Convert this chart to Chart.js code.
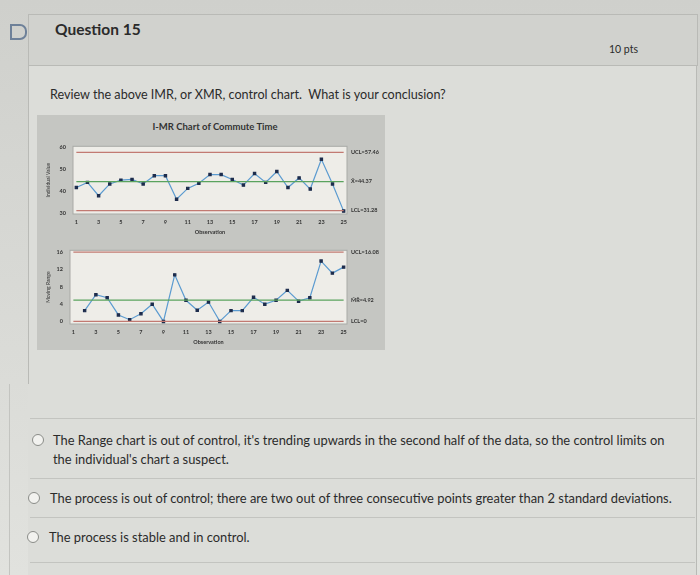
<!doctype html>
<html>
<head>
<title>I-MR Chart of Commute Time</title>
<script src="https://cdn.jsdelivr.net/npm/chart.js@4/dist/chart.umd.min.js"></script>
<style>
	body { margin: 0; width: 700px; height: 575px; position: relative; overflow: hidden;
		background: linear-gradient(180deg, #cfd0cc 0%, #d9dad6 55%, #e1e2de 100%); font-family: Lato, 'Open Sans', sans-serif; color: #2b2b2b; }
	.abs { position: absolute; }
	.radio { position: absolute; width: 10px; height: 10px; border: 1px solid #8a8c88; border-radius: 50%; background: #f2f2ef; }
	.rule { position: absolute; left: 30px; width: 665px; height: 1px; background: #c3c4c0; }
	.opt { position: absolute; font-size: 12.9px; line-height: 19px; }
</style>
</head>
<body>
	<div class="abs" style="left:10px;top:24px;width:13px;height:12px;border:2px solid #6e8199;border-radius:0 7px 7px 0;"></div>
	<div class="abs" style="left:28px;top:14px;width:668px;height:570px;background:#dcddd9;border-right:1px solid #b9bab6;border-top:1px solid #b9bab6;"></div>
	<div class="abs" style="left:28px;top:64px;width:1px;height:320px;background:#b9bab6;"></div>
	<div class="abs" style="left:9px;top:384px;width:1px;height:200px;background:#c3c4c0;"></div>
	<div class="abs" style="left:28px;top:14px;width:668px;height:50px;background:#d1d2ce;border:1px solid #b9bab6;"></div>
	<div class="abs" style="left:55px;top:20px;font-size:15.5px;font-weight:bold;">Question 15</div>
	<div class="abs" style="left:609px;top:43px;font-size:10.5px;">10 pts</div>
	<div class="abs" style="left:50px;top:87px;font-size:12.6px;">Review the above IMR, or XMR, control chart.&nbsp; What is your conclusion?</div>

	<div class="abs" style="left:37px;top:115px;width:348px;height:235px;background:#c5c6c2;"></div>
	<div class="abs" style="left:37px;top:121px;width:356px;text-align:center;font-size:9.5px;font-weight:bold;color:#333;">I-MR Chart of Commute Time</div>
	<div class="abs" style="left:45px;top:136px;width:340px;height:104px;"><canvas id="iChart"></canvas></div>
	<div class="abs" style="left:45px;top:240px;width:340px;height:110px;"><canvas id="mrChart"></canvas></div>

	<div class="rule" style="top:418px;"></div>
	<div class="radio" style="left:32px;top:434px;"></div>
	<div class="opt" style="left:53px;top:431px;width:622px;">The Range chart is out of control, it's trending upwards in the second half of the data, so the control limits on the individual's chart a suspect.</div>
	<div class="rule" style="top:478px;"></div>
	<div class="radio" style="left:28px;top:492px;"></div>
	<div class="opt" style="left:50px;top:489px;">The process is out of control; there are two out of three consecutive points greater than 2 standard deviations.</div>
	<div class="rule" style="top:517px;"></div>
	<div class="radio" style="left:27px;top:531px;"></div>
	<div class="opt" style="left:49px;top:528px;">The process is stable and in control.</div>
	<div class="rule" style="top:562px;"></div>

	<script>
		var observations = [1, 2, 3, 4, 5, 6, 7, 8, 9, 10, 11, 12, 13, 14, 15, 16, 17, 18, 19, 20, 21, 22, 23, 24, 25];
		var individualValues = [41.7, 44, 38, 43.3, 45, 45.3, 43.3, 47, 47, 36.4, 41.3, 43.6, 47.5, 47.5, 45.3, 42.8, 48, 44, 48.9, 41.7, 46, 41, 54.4, 43.3, 31.1];
		var movingRanges = [null, 2.5, 6.2, 5.5, 1.5, 0.4, 1.8, 4, 0, 10.8, 4.9, 2.6, 4.5, 0, 2.5, 2.5, 5.6, 4, 4.9, 7.2, 4.7, 5.5, 14, 11.2, 12.6];
		var iLimitValues = [57.46, 44.37, 31.28];
		var iLimitLabels = ['UCL=57.46', 'X\u0304=44.37', 'LCL=31.28'];
		var mrLimitValues = [16.08, 4.92, 0];
		var mrLimitLabels = ['UCL=16.08', 'M\u0304R\u0304=4.92', 'LCL=0'];
		var iTicks = [30, 40, 50, 60];
		var mrTicks = [0, 4, 8, 12, 16];
		var xTicks = [1, 3, 5, 7, 9, 11, 13, 15, 17, 19, 21, 23, 25];

		var limitColors = ['#c27a72', '#5aa35e', '#c27a72'];

		function points(values) {
			return observations.map(function(o, i) {
				return { x: o, y: values[i] };
			});
		}

		function limitSets(values) {
			return values.map(function(v, i) {
				return {
					data: [{ x: observations[0], y: v }, { x: observations[observations.length - 1], y: v }],
					borderColor: limitColors[i],
					borderWidth: 1.3,
					pointRadius: 0
				};
			});
		}

		// plot background, frame and limit labels on the right
		var framePlugin = {
			id: 'frame',
			beforeDraw: function(chart) {
				var a = chart.chartArea, ctx = chart.ctx;
				ctx.save();
				ctx.fillStyle = '#eeede8';
				ctx.fillRect(a.left, a.top, a.right - a.left, a.bottom - a.top);
				ctx.strokeStyle = '#a9aaa6';
				ctx.lineWidth = 1;
				ctx.strokeRect(a.left, a.top, a.right - a.left, a.bottom - a.top);
				ctx.restore();
			},
			afterDraw: function(chart) {
				var o = chart.options.plugins.frame, ctx = chart.ctx, y = chart.scales.y;
				ctx.save();
				ctx.fillStyle = '#333';
				ctx.font = 'bold 5.5px Lato';
				ctx.textBaseline = 'middle';
				o.values.forEach(function(v, i) {
					ctx.fillText(o.labels[i], chart.chartArea.right + 4, y.getPixelForValue(v));
				});
				ctx.restore();
			}
		};

		function makeChart(id, values, limits, labels, yTicks, yMin, yMax, yTitle, yWidth, padTop) {
			var datasets = limitSets(limits);
			datasets.push({
				data: points(values),
				borderColor: '#5b9bd0',
				borderWidth: 1.2,
				pointStyle: 'rect',
				pointRadius: 1.6,
				pointBackgroundColor: '#1d2c4c',
				pointBorderColor: '#1d2c4c',
				spanGaps: false
			});
			return new Chart(document.getElementById(id), {
				type: 'line',
				data: { datasets: datasets },
				plugins: [framePlugin],
				options: {
					responsive: true,
					maintainAspectRatio: false,
					animation: false,
					layout: { padding: { top: padTop, right: 38, left: 0, bottom: 0 } },
					plugins: {
						legend: { display: false },
						tooltip: { enabled: false },
						frame: { values: limits, labels: labels }
					},
					scales: {
						x: {
							type: 'linear', min: 0.7, max: 25.3,
							afterBuildTicks: function(s) { s.ticks = xTicks.map(function(v) { return { value: v }; }); },
							grid: { display: false, drawTicks: false },
							border: { display: false },
							ticks: { font: { size: 5.5, family: 'Lato', weight: 'bold' }, color: '#333', padding: 5 },
							title: { display: true, text: 'Observation', font: { size: 5.5, family: 'Lato', weight: 'bold' }, color: '#333', padding: { top: 2, bottom: 4 } },
							afterFit: function(s) { s.height = 26; }
						},
						y: {
							min: yMin, max: yMax,
							afterBuildTicks: function(s) { s.ticks = yTicks.map(function(v) { return { value: v }; }); },
							grid: { display: false, drawTicks: false },
							border: { display: false },
							ticks: { font: { size: 5.5, family: 'Lato', weight: 'bold' }, color: '#333', padding: 7 },
							title: { display: true, text: yTitle, font: { size: 5, family: 'Lato' }, color: '#333', padding: 0 },
							afterFit: function(s) { s.width = yWidth; }
						}
					}
				}
			});
		}

		window.onload = function() {
			window.iChart = makeChart('iChart', individualValues, iLimitValues, iLimitLabels, iTicks, 29.8, 60.2, 'Individual Value', 28, 7);
			window.mrChart = makeChart('mrChart', movingRanges, mrLimitValues, mrLimitLabels, mrTicks, -0.6, 16.5, 'Moving Range', 25, 8);
		};
	</script>
</body>
</html>
